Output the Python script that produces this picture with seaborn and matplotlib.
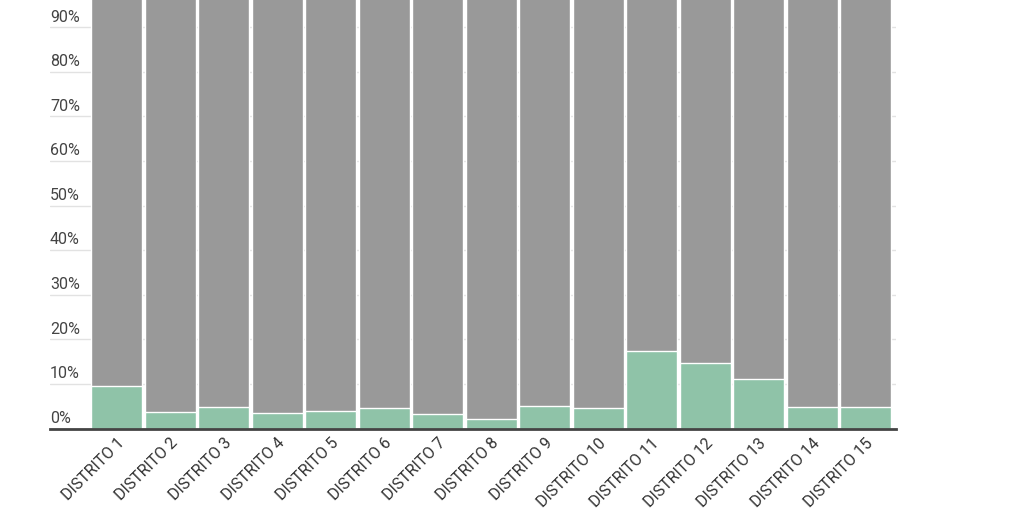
import seaborn as sns
import matplotlib.pyplot as plt
import pandas as pd

distritos = ["DISTRITO %d" % i for i in range(1, 16)]
verde = [9.5, 3.7, 4.8, 3.5, 3.9, 4.6, 3.2, 2.1, 5.0, 4.5, 17.3, 14.7, 11.0, 4.8, 4.8]
resto = [100 - v for v in verde]
y_ticks = [0, 10, 20, 30, 40, 50, 60, 70, 80, 90]

df = pd.DataFrame({"distrito": distritos, "verde": verde, "resto": resto})
df["total"] = df["verde"] + df["resto"]

sns.set_style("white")
plt.rcParams["font.family"] = ["Roboto", "DejaVu Sans"]

fig = plt.figure(figsize=(10.24, 5.12), dpi=100)
ax = fig.add_axes([50 / 1024, 83.5 / 512, 846 / 1024, 428.5 / 512])

for y in y_ticks:
    ax.axhline(y, color="#e2e2e2", lw=1, zorder=0)
    ax.text(0, y + 0.6, "%d%%" % y, transform=ax.get_yaxis_transform(),
            ha="left", va="bottom", fontsize=11.5, color="#444444")

sns.barplot(data=df, x="distrito", y="total", color="#999999", width=0.955,
            saturation=1, ax=ax, zorder=2)
sns.barplot(data=df, x="distrito", y="verde", color="#8fc3a8", width=0.955,
            saturation=1, ax=ax, zorder=3)

ax.set_xlim(-1.25, 14.57)
ax.set_ylim(0, 96.1)
ax.set_yticks([])
ax.set_xlabel("")
ax.set_ylabel("")
for s in ["top", "right", "left"]:
    ax.spines[s].set_visible(False)
ax.spines["bottom"].set_color("#444444")
ax.spines["bottom"].set_linewidth(2)
ax.spines["bottom"].set_zorder(5)

ax.tick_params(axis="x", length=0, pad=5)
plt.setp(ax.get_xticklabels(), rotation=45, ha="right", rotation_mode="anchor",
         fontsize=11.5, color="#333333")

fig.savefig("out.png", dpi=100)
